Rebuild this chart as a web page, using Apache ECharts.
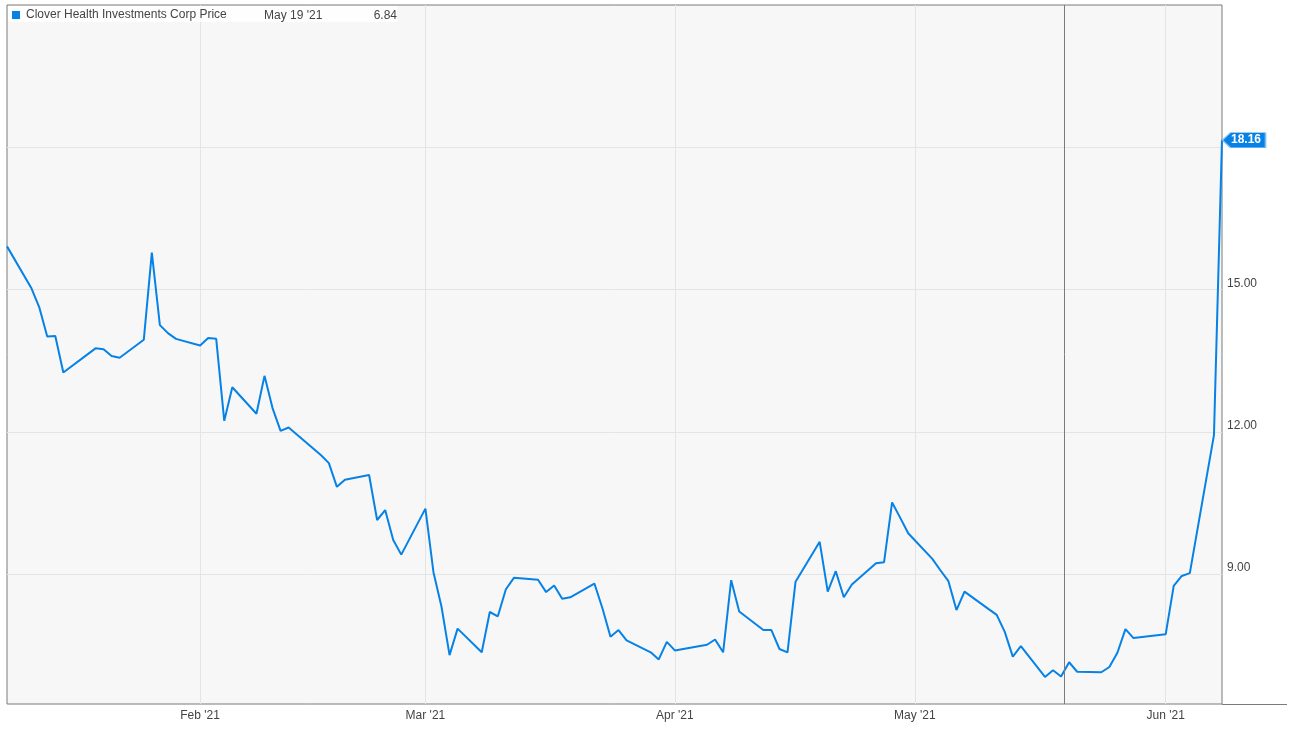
<!DOCTYPE html>
<html>
<head>
<meta charset="utf-8">
<title>Clover Health Investments Corp Price</title>
<script src="https://cdn.jsdelivr.net/npm/echarts@6/dist/echarts.min.js"></script>
<style>
html,body{margin:0;padding:0;background:#fff;}
#main{width:1291px;height:730px;}
</style>
</head>
<body>
<div id="main"></div>
<script type="text/javascript">
var seriesName = 'Clover Health Investments Corp Price';

var dates = [
  '2021-01-08','2021-01-11','2021-01-12','2021-01-13','2021-01-14','2021-01-15',
  '2021-01-19','2021-01-20','2021-01-21','2021-01-22',
  '2021-01-25','2021-01-26','2021-01-27','2021-01-28','2021-01-29',
  '2021-02-01','2021-02-02','2021-02-03','2021-02-04','2021-02-05',
  '2021-02-08','2021-02-09','2021-02-10','2021-02-11','2021-02-12',
  '2021-02-16','2021-02-17','2021-02-18','2021-02-19',
  '2021-02-22','2021-02-23','2021-02-24','2021-02-25','2021-02-26',
  '2021-03-01','2021-03-02','2021-03-03','2021-03-04','2021-03-05',
  '2021-03-08','2021-03-09','2021-03-10','2021-03-11','2021-03-12',
  '2021-03-15','2021-03-16','2021-03-17','2021-03-18','2021-03-19',
  '2021-03-22','2021-03-23','2021-03-24','2021-03-25','2021-03-26',
  '2021-03-29','2021-03-30','2021-03-31','2021-04-01',
  '2021-04-05','2021-04-06','2021-04-07','2021-04-08','2021-04-09',
  '2021-04-12','2021-04-13','2021-04-14','2021-04-15','2021-04-16',
  '2021-04-19','2021-04-20','2021-04-21','2021-04-22','2021-04-23',
  '2021-04-26','2021-04-27','2021-04-28','2021-04-29','2021-04-30',
  '2021-05-03','2021-05-04','2021-05-05','2021-05-06','2021-05-07',
  '2021-05-10','2021-05-11','2021-05-12','2021-05-13','2021-05-14',
  '2021-05-17','2021-05-18','2021-05-19','2021-05-20','2021-05-21',
  '2021-05-24','2021-05-25','2021-05-26','2021-05-27','2021-05-28',
  '2021-06-01','2021-06-02','2021-06-03','2021-06-04',
  '2021-06-07','2021-06-08'
];

var prices = [
  15.91,15.04,14.63,14.01,14.02,13.25,
  13.76,13.74,13.60,13.56,
  13.94,15.78,14.25,14.08,13.96,
  13.82,13.98,13.96,12.23,12.94,
  12.38,13.18,12.50,12.02,12.09,
  11.51,11.34,10.84,10.99,
  11.09,10.14,10.35,9.72,9.41,
  10.38,9.04,8.31,7.29,7.85,
  7.35,8.20,8.11,8.68,8.92,
  8.88,8.62,8.76,8.48,8.51,
  8.80,8.28,7.68,7.82,7.60,
  7.35,7.20,7.57,7.39,
  7.51,7.62,7.35,8.87,8.21,
  7.82,7.82,7.42,7.35,8.84,
  9.68,8.63,9.06,8.51,8.78,
  9.23,9.25,10.51,10.19,9.86,
  9.32,9.08,8.85,8.24,8.63,
  8.26,8.14,7.78,7.26,7.48,
  6.83,6.97,6.84,7.14,6.94,
  6.93,7.04,7.34,7.84,7.65,
  7.73,8.75,8.96,9.02,
  11.93,18.16
];

// the May gridline sits a little before May 1 in the source chart
var xTickDates = ['2021-02-01','2021-03-01','2021-04-01','2021-04-30 20:00','2021-06-01'];
var xTickLabels = ["Feb '21","Mar '21","Apr '21","May '21","Jun '21"];
var yTicks = [9,12,15,18];

var readoutDate = '2021-05-19';
var readoutLabel = "May 19 '21";
var cursorTime = '2021-05-19 08:00';

var blue = '#0682e6';
var textColor = '#444';
var frameColor = '#7b7b7b';
var gridColor = '#e4e4e4';
var font = '"Liberation Sans", Arial, sans-serif';

var toTime = function(d) {
  return +echarts.time.parse(d);
};
var xTickTimes = xTickDates.map(toTime);
var lineData = dates.map(function(d, i) {
  return [toTime(d), prices[i]];
});
var lastPoint = lineData[lineData.length - 1];
var readoutValue = prices[dates.indexOf(readoutDate)].toFixed(2);

var myecharts = echarts.init(document.getElementById('main'));

var option = {
  animation: false,
  textStyle: {fontFamily: font},
  grid: {
    left: 7, right: 69, top: 5, bottom: 26,
    show: true,
    backgroundColor: '#f7f7f7',
    borderColor: frameColor,
    borderWidth: 1
  },
  legend: {
    left: 12, top: 9, padding: 0, z: 4,
    itemWidth: 8, itemHeight: 8,
    icon: 'rect',
    selectedMode: false,
    textStyle: {color: textColor, fontSize: 12, fontFamily: font, padding: [2, 0, 0, 1]},
    data: [seriesName]
  },
  graphic: [
    {type: 'rect', z: 3, shape: {x: 8, y: 6, width: 389, height: 16}, style: {fill: 'rgba(255,255,255,0.8)'}},
    {type: 'text', z: 4, x: 264, y: 10, style: {text: readoutLabel, fill: textColor, font: '12px ' + font}},
    {type: 'text', z: 4, x: 397, y: 10, style: {text: readoutValue, fill: textColor, align: 'right', font: '12px ' + font}},
    {type: 'line', z: 3, shape: {x1: 1222, y1: 704.5, x2: 1287, y2: 704.5}, style: {stroke: frameColor, lineWidth: 1}}
  ],
  xAxis: {
    // timestamps on a value axis, so the month ticks can be set exactly
    type: 'value',
    min: toTime(dates[0]),
    max: toTime(dates[dates.length - 1]),
    axisLine: {show: false},
    axisTick: {show: false, customValues: xTickTimes},
    splitLine: {show: true, lineStyle: {color: gridColor, width: 1}},
    axisLabel: {
      customValues: xTickTimes,
      hideOverlap: false,
      color: textColor,
      fontSize: 12,
      margin: 6,
      formatter: function(val) {
        return xTickLabels[xTickTimes.indexOf(val)];
      }
    }
  },
  yAxis: {
    type: 'value',
    position: 'right',
    min: 6.26,
    max: 21,
    axisLine: {show: false},
    axisTick: {show: false, customValues: yTicks},
    splitLine: {show: true, lineStyle: {color: gridColor, width: 1}},
    axisLabel: {
      customValues: yTicks,
      color: textColor,
      fontSize: 12,
      margin: 5,
      verticalAlign: 'bottom',
      lineHeight: 12,
      formatter: function(val) {
        return val.toFixed(2);
      }
    }
  },
  series: [{
    name: seriesName,
    type: 'line',
    data: lineData,
    showSymbol: false,
    symbol: 'none',
    clip: false,
    color: blue,
    lineStyle: {color: blue, width: 2},
    markLine: {
      silent: true,
      symbol: 'none',
      animation: false,
      label: {show: false},
      lineStyle: {color: frameColor, type: 'solid', width: 1},
      data: [{xAxis: toTime(cursorTime)}]
    },
    markPoint: {
      silent: true,
      animation: false,
      symbol: 'path://M0 8L8 0L43 0L43 16L8 16Z',
      symbolSize: [43, 15],
      symbolOffset: [22, 0.5],
      itemStyle: {color: blue, borderColor: '#7fbdf0', borderWidth: 1},
      label: {
        show: true,
        position: 'inside',
        offset: [2, 0],
        color: '#fff',
        fontWeight: 'bold',
        fontSize: 12,
        fontFamily: font,
        formatter: function(p) {
          return p.value.toFixed(2);
        }
      },
      data: [{coord: lastPoint, value: lastPoint[1]}]
    }
  }]
};

myecharts.setOption(option);
</script>
</body>
</html>
